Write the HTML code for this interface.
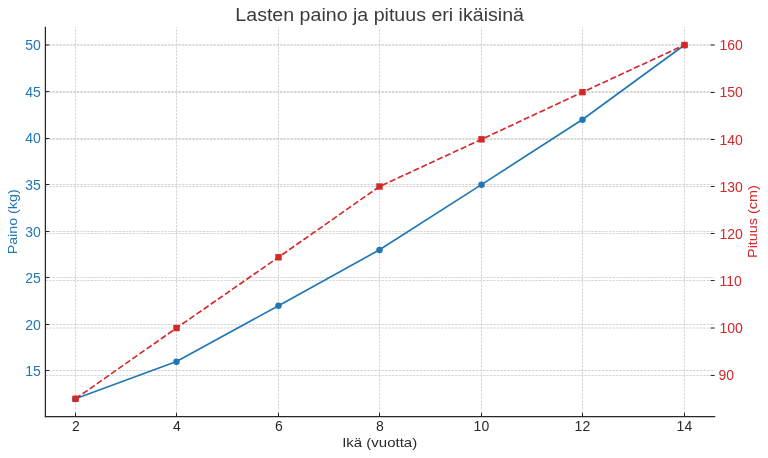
<!DOCTYPE html>
<html lang="fi"><head><meta charset="utf-8"><title>Lasten paino ja pituus eri ikäisinä</title>
<style>html,body{margin:0;padding:0;background:#fff;}body{width:768px;height:458px;overflow:hidden;}svg{display:block;will-change:transform;}text{font-family:"Liberation Sans",sans-serif;}</style>
</head><body>
<svg width="768" height="458" viewBox="0 0 768 458">
<rect x="0" y="0" width="768" height="458" fill="#ffffff"/>
<g stroke="#c4c4c4" stroke-width="0.7" stroke-dasharray="2.45 1.05" fill="none">
<line x1="75.50" y1="416.5" x2="75.50" y2="27.3"/>
<line x1="176.50" y1="416.5" x2="176.50" y2="27.3"/>
<line x1="278.50" y1="416.5" x2="278.50" y2="27.3"/>
<line x1="379.50" y1="416.5" x2="379.50" y2="27.3"/>
<line x1="481.50" y1="416.5" x2="481.50" y2="27.3"/>
<line x1="582.50" y1="416.5" x2="582.50" y2="27.3"/>
<line x1="684.50" y1="416.5" x2="684.50" y2="27.3"/>
<line x1="45.4" y1="370.50" x2="714.6" y2="370.50"/>
<line x1="45.4" y1="324.50" x2="714.6" y2="324.50"/>
<line x1="45.4" y1="277.50" x2="714.6" y2="277.50"/>
<line x1="45.4" y1="231.50" x2="714.6" y2="231.50"/>
<line x1="45.4" y1="184.50" x2="714.6" y2="184.50"/>
<line x1="45.4" y1="138.50" x2="714.6" y2="138.50"/>
<line x1="45.4" y1="91.50" x2="714.6" y2="91.50"/>
<line x1="45.4" y1="45.00" x2="714.6" y2="45.00"/>
<line x1="45.4" y1="375.50" x2="714.6" y2="375.50"/>
<line x1="45.4" y1="328.02" x2="714.6" y2="328.02"/>
<line x1="45.4" y1="280.50" x2="714.6" y2="280.50"/>
<line x1="45.4" y1="233.50" x2="714.6" y2="233.50"/>
<line x1="45.4" y1="186.50" x2="714.6" y2="186.50"/>
<line x1="45.4" y1="139.50" x2="714.6" y2="139.50"/>
<line x1="45.4" y1="92.50" x2="714.6" y2="92.50"/>
<line x1="45.4" y1="45.00" x2="714.6" y2="45.00"/>
</g>
<polyline points="75.50,398.78 176.50,361.54 278.50,305.68 379.50,249.82 481.50,184.65 582.50,119.48 684.50,45.00" fill="none" stroke="#1f77b4" stroke-width="1.65" stroke-linejoin="round"/>
<circle cx="75.50" cy="398.93" r="3.25" fill="#1f77b4"/>
<circle cx="176.50" cy="361.69" r="3.25" fill="#1f77b4"/>
<circle cx="278.50" cy="305.83" r="3.25" fill="#1f77b4"/>
<circle cx="379.50" cy="249.97" r="3.25" fill="#1f77b4"/>
<circle cx="481.50" cy="184.80" r="3.25" fill="#1f77b4"/>
<circle cx="582.50" cy="119.63" r="3.25" fill="#1f77b4"/>
<circle cx="684.50" cy="45.15" r="3.25" fill="#1f77b4"/>
<polyline points="75.50,398.77 176.50,328.02 278.50,257.26 379.50,186.51 481.50,139.34 582.50,92.17 684.50,45.00" fill="none" stroke="#d62728" stroke-width="1.65" stroke-dasharray="6.06 2.625" stroke-linejoin="round"/>
<rect x="72.30" y="395.57" width="6.4" height="6.4" fill="#d62728"/>
<rect x="173.30" y="324.82" width="6.4" height="6.4" fill="#d62728"/>
<rect x="275.30" y="254.06" width="6.4" height="6.4" fill="#d62728"/>
<rect x="376.30" y="183.31" width="6.4" height="6.4" fill="#d62728"/>
<rect x="478.30" y="136.14" width="6.4" height="6.4" fill="#d62728"/>
<rect x="579.30" y="88.97" width="6.4" height="6.4" fill="#d62728"/>
<rect x="681.30" y="41.80" width="6.4" height="6.4" fill="#d62728"/>
<g stroke="#262626" stroke-width="1.25" fill="none" stroke-linecap="square">
<line x1="45.4" y1="27.3" x2="45.4" y2="416.5"/>
<line x1="45.4" y1="416.5" x2="714.6" y2="416.5"/>
</g>
<g stroke="#262626" stroke-width="1" fill="none">
<line x1="75.50" y1="416.5" x2="75.50" y2="412.9"/>
<line x1="176.50" y1="416.5" x2="176.50" y2="412.9"/>
<line x1="278.50" y1="416.5" x2="278.50" y2="412.9"/>
<line x1="379.50" y1="416.5" x2="379.50" y2="412.9"/>
<line x1="481.50" y1="416.5" x2="481.50" y2="412.9"/>
<line x1="582.50" y1="416.5" x2="582.50" y2="412.9"/>
<line x1="684.50" y1="416.5" x2="684.50" y2="412.9"/>
<line x1="45.4" y1="370.50" x2="49.3" y2="370.50"/>
<line x1="45.4" y1="324.50" x2="49.3" y2="324.50"/>
<line x1="45.4" y1="277.50" x2="49.3" y2="277.50"/>
<line x1="45.4" y1="231.50" x2="49.3" y2="231.50"/>
<line x1="45.4" y1="184.50" x2="49.3" y2="184.50"/>
<line x1="45.4" y1="138.50" x2="49.3" y2="138.50"/>
<line x1="45.4" y1="91.50" x2="49.3" y2="91.50"/>
<line x1="45.4" y1="45.00" x2="49.3" y2="45.00"/>
<line x1="714.6" y1="375.50" x2="710.7" y2="375.50"/>
<line x1="714.6" y1="328.02" x2="710.7" y2="328.02"/>
<line x1="714.6" y1="280.50" x2="710.7" y2="280.50"/>
<line x1="714.6" y1="233.50" x2="710.7" y2="233.50"/>
<line x1="714.6" y1="186.50" x2="710.7" y2="186.50"/>
<line x1="714.6" y1="139.50" x2="710.7" y2="139.50"/>
<line x1="714.6" y1="92.50" x2="710.7" y2="92.50"/>
<line x1="714.6" y1="45.00" x2="710.7" y2="45.00"/>
</g>
<g font-size="14.0" fill="#2a2a2a" text-anchor="middle">
<text x="75.90" y="430.5">2</text>
<text x="176.90" y="430.5">4</text>
<text x="278.90" y="430.5">6</text>
<text x="379.90" y="430.5">8</text>
<text x="481.40" y="430.5">10</text>
<text x="582.40" y="430.5">12</text>
<text x="684.40" y="430.5">14</text>
</g>
<g font-size="14.0" fill="#1f77b4" text-anchor="end">
<text x="40.8" y="376.15">15</text>
<text x="40.8" y="329.60">20</text>
<text x="40.8" y="283.05">25</text>
<text x="40.8" y="236.50">30</text>
<text x="40.8" y="189.95">35</text>
<text x="40.8" y="143.40">40</text>
<text x="40.8" y="96.85">45</text>
<text x="40.8" y="50.30">50</text>
</g>
<g font-size="14.0" fill="#d62728" text-anchor="start">
<text x="718.4" y="380.49">90</text>
<text x="719.5" y="333.32">100</text>
<text x="719.5" y="286.15">110</text>
<text x="719.5" y="238.98">120</text>
<text x="719.5" y="191.81">130</text>
<text x="719.5" y="144.64">140</text>
<text x="719.5" y="97.47">150</text>
<text x="719.5" y="50.30">160</text>
</g>
<text x="379.65" y="20.8" font-size="17.5" fill="#3a3a3a" text-anchor="middle" textLength="288.6" lengthAdjust="spacingAndGlyphs">Lasten paino ja pituus eri ikäisinä</text>
<text x="379.7" y="447.45" font-size="13.5" fill="#2a2a2a" text-anchor="middle" textLength="75.0" lengthAdjust="spacingAndGlyphs">Ikä (vuotta)</text>
<text transform="translate(17.4,221.85) rotate(-90)" font-size="13.4" fill="#1f77b4" text-anchor="middle" textLength="65" lengthAdjust="spacingAndGlyphs">Paino (kg)</text>
<text transform="translate(757.1,221.6) rotate(-90)" font-size="13.4" fill="#d62728" text-anchor="middle" textLength="72.6" lengthAdjust="spacingAndGlyphs">Pituus (cm)</text>
</svg></body></html>
